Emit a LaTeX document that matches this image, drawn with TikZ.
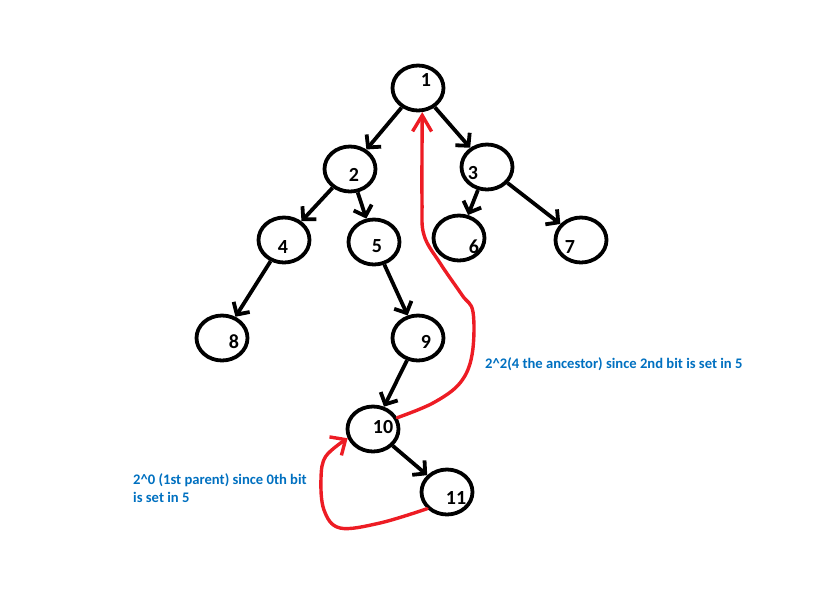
\documentclass[tikz,border=0pt]{standalone}
\usepackage{fontspec}
\setmainfont{Carlito}
\usepackage{tikz}
\usetikzlibrary{arrows.meta,shapes.geometric}
\definecolor{ink}{HTML}{000000}
\definecolor{jump}{HTML}{ED1C24}
\definecolor{note}{HTML}{0070C0}
\tikzset{
  vert/.style={draw=ink, ellipse, line width=3.8pt, minimum width=51pt, minimum height=45pt, inner sep=0pt},
  num/.style={text=ink, font=\fontsize{20}{20}\selectfont\bfseries, inner sep=0pt},
  edge/.style={draw=ink, line width=3.8pt, -{Straight Barb[length=9pt,width=19pt]}},
  jmp/.style={draw=jump, line width=3.4pt, line cap=round, line join=round},
  lab/.style={text=note, font=\fontsize{14.6}{18}\selectfont\bfseries, align=left, inner sep=0pt},
}
\begin{document}
\begin{tikzpicture}[x=1pt,y=-1pt]
  \useasboundingbox (0,0) rectangle (834,592);

  % tree
  \node[vert,label={[num,xshift=8pt,yshift=8pt]center:1}]     (n1)  at (418,88)  {};
  \node[vert,label={[num,xshift=4pt,yshift=-6pt]center:2}]    (n2)  at (350,169) {};
  \node[vert,label={[num,xshift=-14pt,yshift=-6pt]center:3}]  (n3)  at (487,167) {};
  \node[vert,label={[num,xshift=-1pt,yshift=-7pt]center:4}]   (n4)  at (284,240) {};
  \node[vert,label={[num,xshift=3pt,yshift=-4pt]center:5}]    (n5)  at (374,242) {};
  \node[vert,label={[num,xshift=15pt,yshift=-9pt]center:6}]   (n6)  at (459,238) {};
  \node[vert,label={[num,xshift=-11pt,yshift=-7pt]center:7}]  (n7)  at (581,240) {};
  \node[vert,label={[num,xshift=12pt,yshift=-4pt]center:8}]   (n8)  at (222,338) {};
  \node[vert,label={[num,xshift=8pt,yshift=-4pt]center:9}]    (n9)  at (418,338) {};
  \node[vert,label={[num,xshift=10pt,yshift=2pt]center:10}]   (n10) at (373,429) {};
  \node[vert,label={[num,xshift=9pt,yshift=-6pt]center:11}]   (n11) at (447,492) {};

  \draw[edge] (n1) -- (n2);
  \draw[edge] (n1) -- (n3);
  \draw[edge] (n2) -- (n4);
  \draw[edge] (n2) -- (n5);
  \draw[edge] (n3) -- (n6);
  \draw[edge] (n3) -- (n7);
  \draw[edge] (n4) -- (n8);
  \draw[edge] (n5) -- (n9);
  \draw[edge] (n9) -- (n10);
  \draw[edge] (n10) -- (n11);

  % jumps
  \draw[jmp,-{Straight Barb[length=16pt,width=19pt]}] plot[smooth,tension=0.6] coordinates
    {(n10.25) (433,403) (460,383) (472,355) (473,312) (462,295) (440,263) (424,235) (422,200) (n1.-80)};
  \draw[jmp,-{Straight Barb[length=12pt,width=22pt]}] plot[smooth,tension=0.6] coordinates
    {(n11.220) (380,523) (340,528) (324,510) (321,478) (326,456) (n10.200)};

  \node[lab,anchor=west] (far) at (485,364) {2\textasciicircum2(4 the ancestor) since 2nd bit is set in 5};
  \node[lab,anchor=north west] (near) at (133,473) {2\textasciicircum0 (1st parent) since 0th bit\\is set in 5};
\end{tikzpicture}
\end{document}
